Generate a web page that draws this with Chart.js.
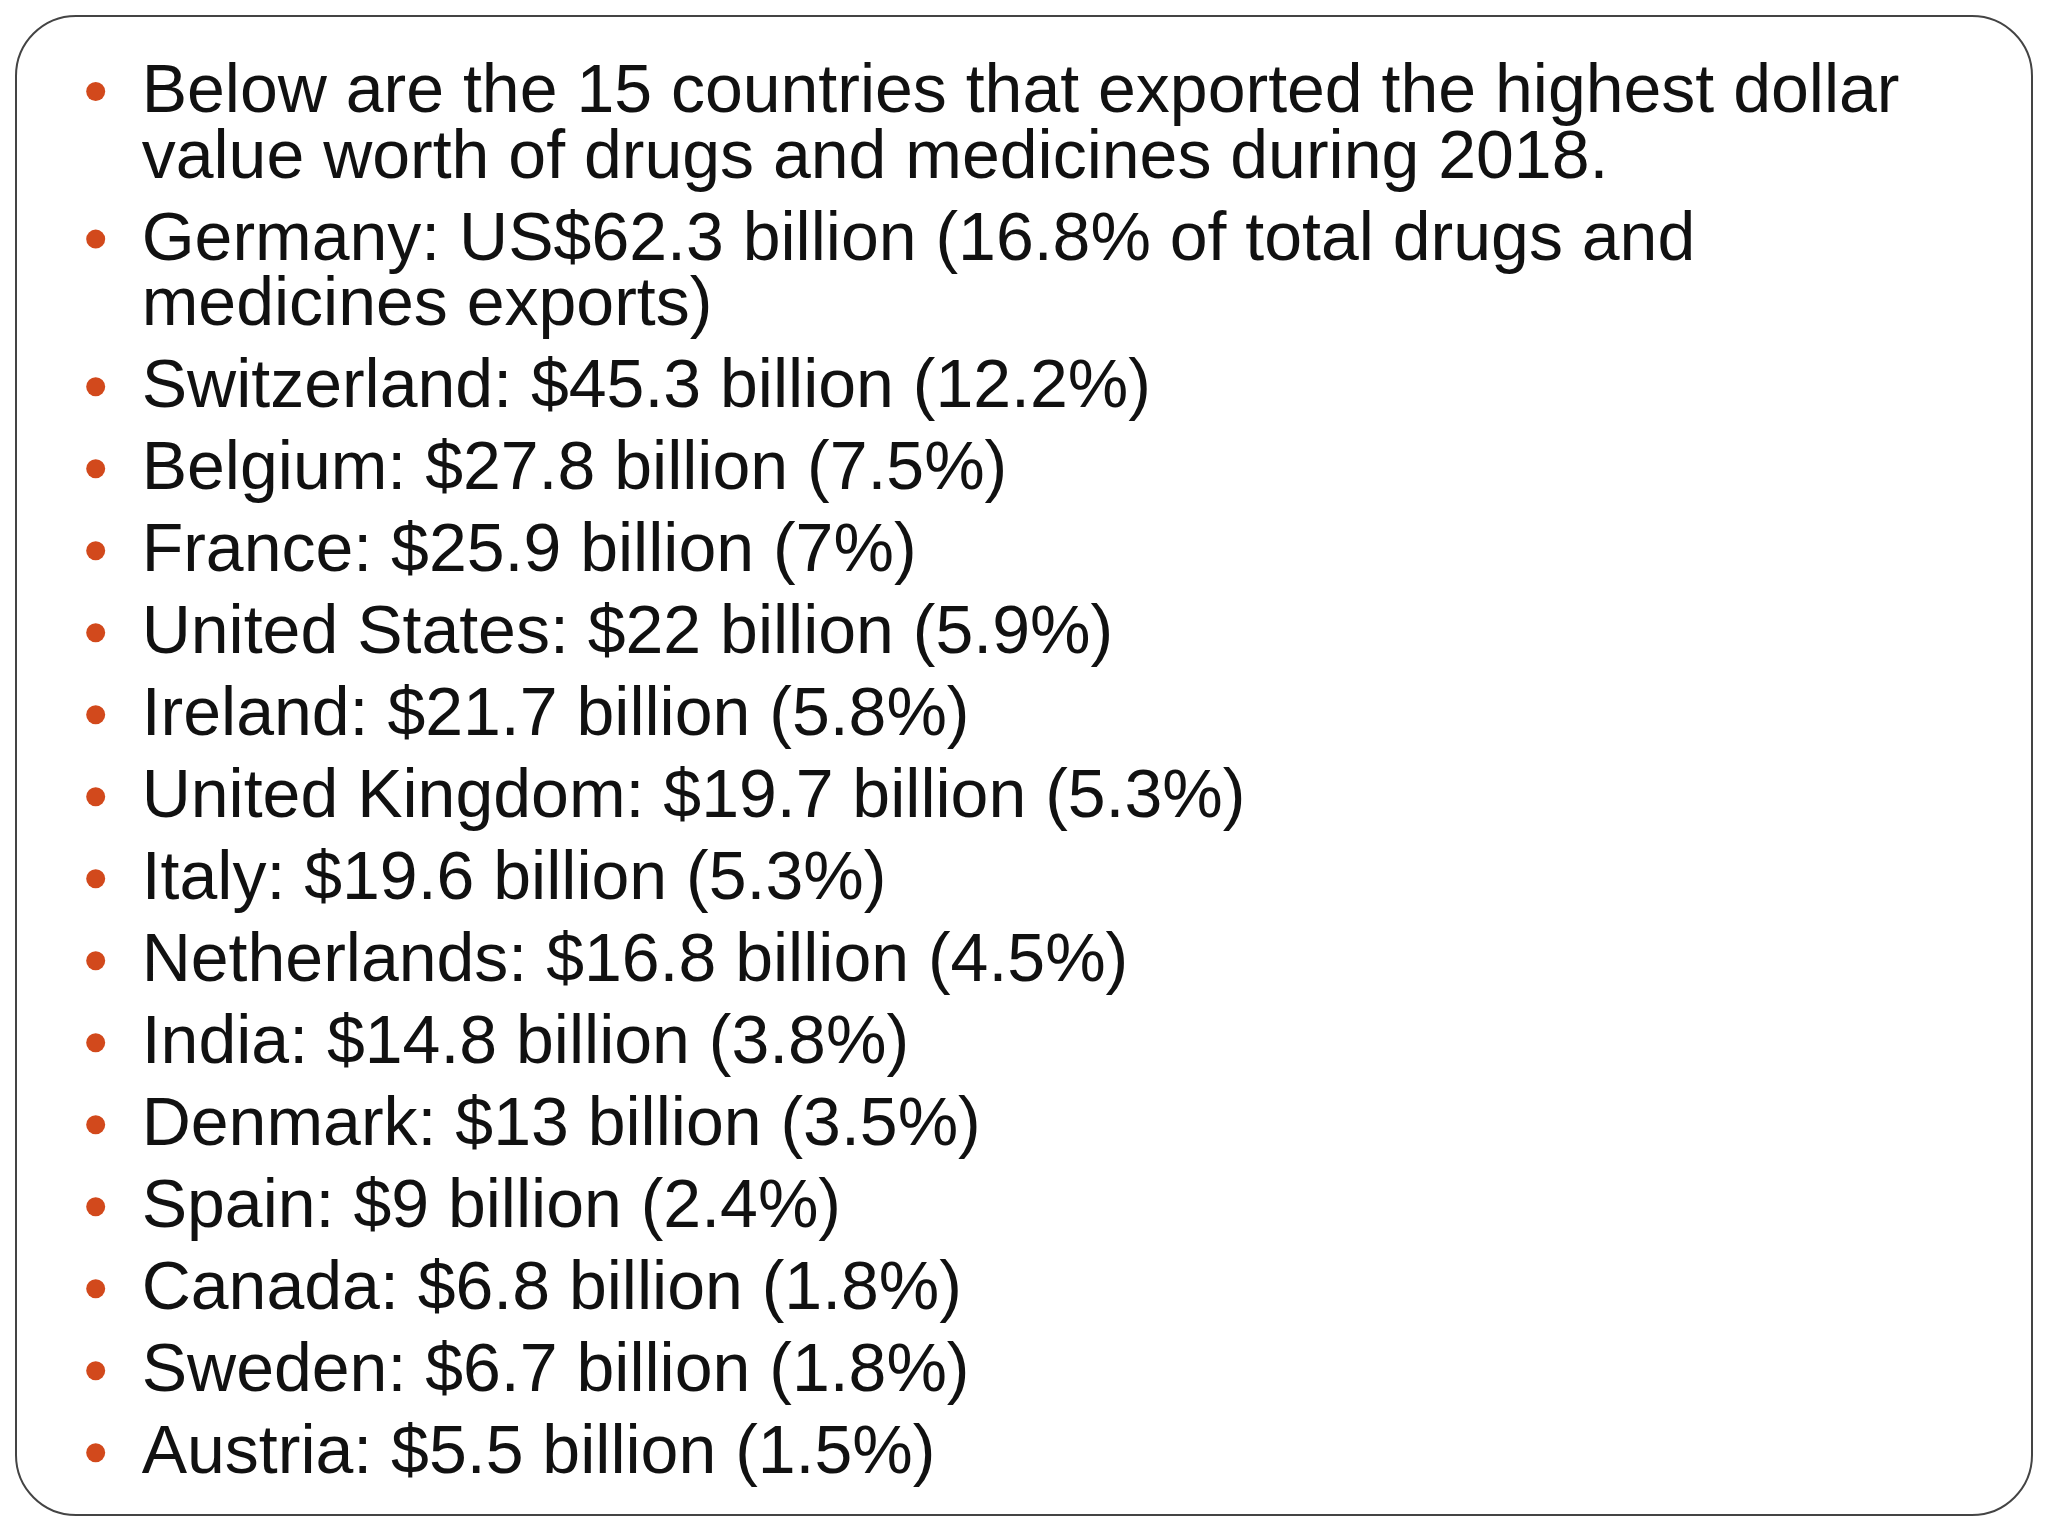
<!DOCTYPE html>
<html><head><meta charset="utf-8">
<script src="https://cdn.jsdelivr.net/npm/chart.js@4"></script>
<style>html,body{margin:0;padding:0;background:#fff}#w{width:2048px;height:1536px}</style>
</head><body><div id="w"><canvas id="c"></canvas></div>
<script>
const introLines = ["Below are the 15 countries that exported the highest dollar", "value worth of drugs and medicines during 2018."];
const countries = ["Germany","Switzerland","Belgium","France","United States","Ireland","United Kingdom","Italy","Netherlands","India","Denmark","Spain","Canada","Sweden","Austria"];
const valuesBn = ["62.3","45.3","27.8","25.9","22","21.7","19.7","19.6","16.8","14.8","13","9","6.8","6.7","5.5"];
const shares = ["16.8","12.2","7.5","7","5.9","5.8","5.3","5.3","4.5","3.8","3.5","2.4","1.8","1.8","1.5"];

const items = [introLines];
countries.forEach((c,i)=>{
  if(i===0) items.push([c+": US$"+valuesBn[i]+" billion ("+shares[i]+"% of total drugs and","medicines exports)"]);
  else items.push([c+": $"+valuesBn[i]+" billion ("+shares[i]+"%)"]);
});
const WRAP = 0.8;
let acc = 0;
const pts = items.map(lines=>{const p={x:0,y:acc,lines}; acc += 1 + WRAP*(lines.length-1); return p;});

const textPlugin = {
  id:'txt',
  beforeDraw(chart){
    const ctx=chart.ctx;
    ctx.save();
    ctx.strokeStyle='#444'; ctx.lineWidth=2;
    ctx.beginPath(); ctx.roundRect(16,16,2016,1499,60); ctx.stroke();
    ctx.restore();
  },
  afterDatasetsDraw(chart){
    const ctx=chart.ctx, xs=chart.scales.x, ys=chart.scales.y;
    const u = ys.getPixelForValue(1)-ys.getPixelForValue(0);
    ctx.save();
    ctx.fillStyle='#111'; ctx.font='68px "Liberation Sans", Arial, sans-serif';
    ctx.textBaseline='middle';
    pts.forEach(p=>{
      const px=xs.getPixelForValue(p.x)+46, py=ys.getPixelForValue(p.y)+2;
      p.lines.forEach((l,k)=>ctx.fillText(l,px,py+k*WRAP*u));
    });
    ctx.restore();
  }
};

new Chart(document.getElementById('c'),{
  type:'scatter',
  data:{datasets:[{data:pts,pointRadius:9.5,pointHoverRadius:9.5,backgroundColor:'#D2491C',borderWidth:0}]},
  options:{
    responsive:true,maintainAspectRatio:false,animation:false,
    layout:{padding:{top:7,bottom:5,left:0,right:0}},
    plugins:{legend:{display:false},tooltip:{enabled:false}},
    scales:{
      x:{type:'linear',display:false,min:-87,max:1961},
      y:{type:'linear',display:false,reverse:true,min:-1,max:17.5}
    }
  },
  plugins:[textPlugin]
});
</script></body></html>
